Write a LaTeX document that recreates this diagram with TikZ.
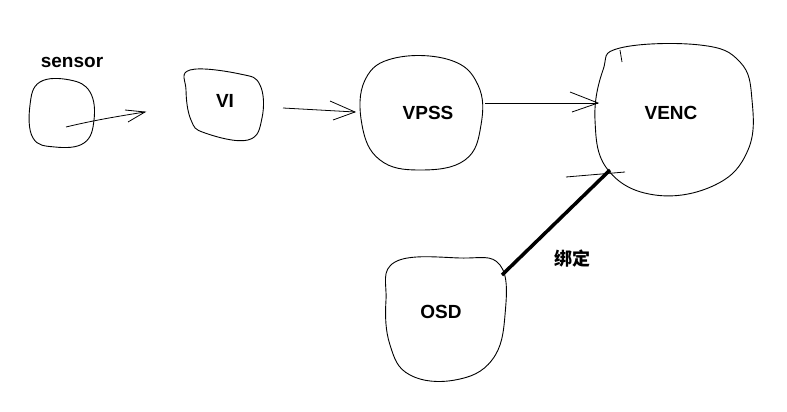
\documentclass[tikz,border=0pt]{standalone}
\usepackage{fontspec}
\setmainfont{Liberation Sans}
\newfontfamily\cjk{Noto Sans CJK SC}
\begin{document}
\begin{tikzpicture}[x=1pt,y=-1pt,
  blob/.style={line width=0.9pt,black},
  lbl/.style={font=\bfseries\fontsize{19}{21}\selectfont},
  ln/.style={line width=0.8pt,black}]
\useasboundingbox[fill=white] (0,0) rectangle (787,412);
% blobs
\draw[blob] plot[smooth cycle,tension=0.7] coordinates {(40,82)(70,80)(90,92)(94,120)(84,143)(55,147)(33,138)(30,105)};
\draw[blob] plot[smooth cycle,tension=0.7] coordinates {(190,70)(240,74)(260,85)(262,118)(248,140)(205,133)(191,120)(186,90)};
\draw[blob] plot[smooth cycle,tension=0.7] coordinates {(395,58)(450,60)(478,85)(481,125)(465,160)(420,170)(380,160)(362,125)(365,80)};
\draw[blob] plot[smooth cycle,tension=0.7] coordinates {(620,48)(700,45)(740,62)(752,100)(748,150)(715,185)(655,195)(608,170)(595,120)(603,70)};
\draw[blob] plot[smooth cycle,tension=0.7] coordinates {(395,262)(460,258)(500,265)(505,315)(492,360)(455,380)(410,375)(390,345)(386,300)};
% labels
\node[lbl] (sensor) at (72,62) {sensor};
\node[lbl] (vi) at (225,101) {VI};
\node[lbl] (vpss) at (428,113) {VPSS};
\node[lbl] (venc) at (671,113) {VENC};
\node[lbl] (osd) at (441,312) {OSD};
\node[font=\cjk\bfseries\fontsize{18}{20}\selectfont] (bd) at (572,259) {绑定};
% connectors
\coordinate (a1) at (66,127); \coordinate (a2) at (145,112);
\draw[ln] (a1) .. controls (95,120) and (120,116) .. (a2);
\draw[ln] (125,110) -- (a2) -- (128,122);
\coordinate (b1) at (283,108); \coordinate (b2) at (355,112);
\draw[ln] (b1) -- (b2);
\draw[ln] (330,101) -- (b2) -- (333,120);
\coordinate (c1) at (485,103); \coordinate (c2) at (598,103);
\draw[ln] (c1) -- (c2);
\draw[ln] (570,92) -- (c2) -- (572,112);
\coordinate (d1) at (566,177); \coordinate (d2) at (625,172);
\draw[ln] (d1) -- (d2);
\coordinate (e1) at (502,275); \coordinate (e2) at (610,170);
\draw[line width=3.5pt] (e1) -- (e2);
\draw[ln] (620,50) -- (622,62);
\end{tikzpicture}
\end{document}
